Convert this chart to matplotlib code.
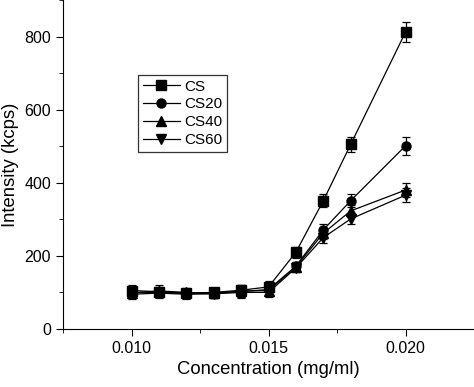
import numpy as np
import matplotlib.pyplot as plt
from matplotlib.ticker import MultipleLocator

plt.rcParams['font.family'] = ['Liberation Sans', 'DejaVu Sans']

conc = [0.010, 0.011, 0.012, 0.013, 0.014, 0.015, 0.016, 0.017, 0.018, 0.020]

cs   = [105, 102, 98, 100, 106, 115, 210, 351, 505, 812]
cs20 = [100, 100, 97, 98, 102, 108, 172, 271, 351, 501]
cs40 = [98, 104, 100, 97, 104, 105, 170, 262, 323, 380]
cs60 = [95, 98, 95, 96, 100, 100, 167, 250, 301, 366]

cs_err   = [15, 12, 12, 12, 15, 15, 15, 18, 20, 28]
cs20_err = [12, 12, 12, 12, 14, 12, 12, 15, 18, 24]
cs40_err = [12, 15, 12, 12, 16, 12, 12, 15, 16, 20]
cs60_err = [12, 12, 12, 12, 14, 12, 12, 14, 15, 20]

series = [('CS', cs, cs_err, 's'), ('CS20', cs20, cs20_err, 'o'),
          ('CS40', cs40, cs40_err, '^'), ('CS60', cs60, cs60_err, 'v')]

fig = plt.figure(figsize=(4.74, 3.87), dpi=100)
ax = fig.add_axes([0.133, 0.150, 0.867, 0.850])

for name, y, e, m in series:
    ax.errorbar(conc, y, yerr=e, color='black', marker=m, markersize=6.5,
                linewidth=0.9, elinewidth=0.9, capsize=3, capthick=0.9, label=name)

ax.set_xlim(0.0075, 0.0225)
ax.set_ylim(0, 900)
ax.xaxis.set_major_locator(MultipleLocator(0.005))
ax.xaxis.set_minor_locator(MultipleLocator(0.0025))
ax.yaxis.set_major_locator(MultipleLocator(200))
ax.yaxis.set_minor_locator(MultipleLocator(100))
ax.xaxis.set_major_formatter(plt.FormatStrFormatter('%.3f'))
ax.spines['top'].set_visible(False)
ax.spines['right'].set_visible(False)
ax.tick_params(which='major', length=5, labelsize=11.5)
ax.tick_params(which='minor', length=3)
ax.set_xlabel('Concentration (mg/ml)', fontsize=13.3)
ax.set_ylabel('Intensity (kcps)', fontsize=13.3)

handles, labels = ax.get_legend_handles_labels()
handles = [h[0] for h in handles]
leg = ax.legend(handles, labels, loc='upper left', bbox_to_anchor=(0.165, 0.795),
                fontsize=11, frameon=True, fancybox=False, edgecolor='black',
                handlelength=2.4, labelspacing=0.25, borderpad=0.3, handletextpad=0.3)
leg.get_frame().set_linewidth(0.9)

plt.savefig('out.png', dpi=100)
